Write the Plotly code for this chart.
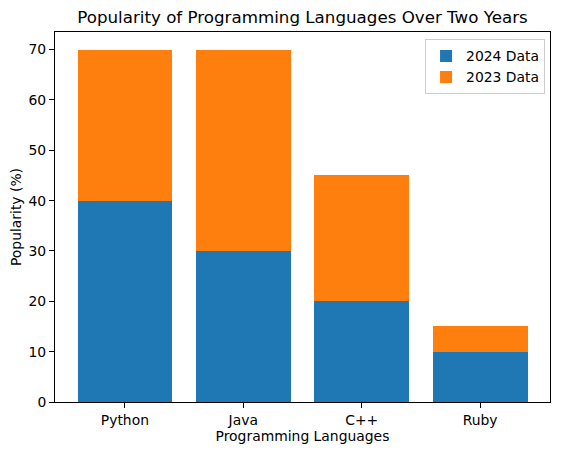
import plotly.graph_objects as go

languages = ["Python", "Java", "C++", "Ruby"]
data_2024 = [40, 30, 20, 10]
data_2023 = [30, 40, 25, 5]

fig = go.Figure()
fig.add_trace(go.Bar(x=languages, y=data_2024, name="2024 Data",
                     marker=dict(color="#1f77b4", line=dict(width=0))))
fig.add_trace(go.Bar(x=languages, y=data_2023, name="2023 Data",
                     marker=dict(color="#ff7f0e", line=dict(width=0))))

# page body has an 8px margin, so the figure is a bit smaller than the window
fig.update_layout(
    width=554, height=447,
    barmode="stack", bargap=0.2,
    margin=dict(l=47, r=12, t=24, b=53, autoexpand=False),
    plot_bgcolor="white", paper_bgcolor="white",
    font=dict(family="DejaVu Sans", size=13.9, color="black"),
    title=dict(text="Popularity of Programming Languages Over Two Years",
               x=0.5, xref="paper", xanchor="center",
               y=1, yref="paper", yanchor="bottom", pad=dict(b=9),
               font=dict(size=16.7)),
    legend=dict(x=0.99, y=0.98, xanchor="right", yanchor="top",
                traceorder="normal", bordercolor="#cccccc", borderwidth=1,
                bgcolor="rgba(255,255,255,0.8)", font=dict(size=13.9)),
    showlegend=True,
)
fig.update_xaxes(
    title=dict(text="Programming Languages", standoff=4, font=dict(size=13.9)),
    tickfont=dict(size=13.9),
    range=[-0.59, 3.59], showline=True, linecolor="black", linewidth=1,
    mirror=True, ticks="outside", ticklen=5, tickcolor="black",
    showgrid=False, zeroline=False, automargin=False,
)
fig.update_yaxes(
    title=dict(text="Popularity (%)", standoff=6, font=dict(size=13.9)),
    tickfont=dict(size=13.9),
    range=[0, 73.5], dtick=10, showline=True, linecolor="black", linewidth=1,
    mirror=True, ticks="outside", ticklen=5, tickcolor="black",
    showgrid=False, zeroline=False, automargin=False,
)

fig.write_html("out.html")
